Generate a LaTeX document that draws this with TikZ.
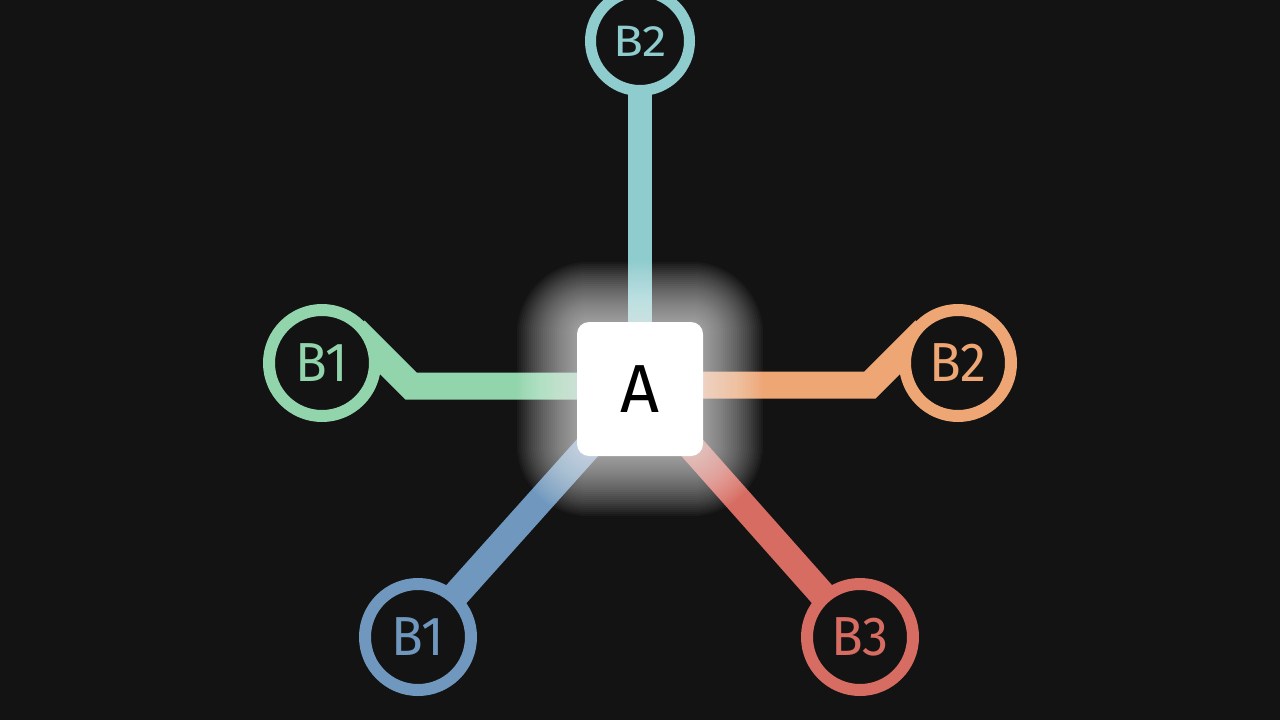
\documentclass[tikz,border=0pt]{standalone}
\usepackage{fontspec}
\setmainfont{Fira Sans}
\usepackage{graphicx}
\usetikzlibrary{calc}
\definecolor{bgc}{HTML}{131313}
\definecolor{cteal}{RGB}{142,204,206}
\definecolor{cgreen}{RGB}{146,212,172}
\definecolor{corange}{RGB}{238,166,116}
\definecolor{cblue}{RGB}{112,152,190}
\definecolor{cred}{RGB}{214,108,98}
\pgfdeclarelayer{back}
\pgfdeclarelayer{wires}
\pgfdeclarelayer{glowl}
\pgfsetlayers{back,wires,glowl,main}
\tikzset{
  ring/.style={circle, draw=#1, line width=12pt, fill=bgc, minimum size=106pt,
    inner sep=0pt, text=#1, font=\fontsize{55}{55}\selectfont},
  wire/.style={draw=#1, line width=27pt},
  hub/.style={rectangle, rounded corners=12pt, fill=white, minimum width=126pt,
    minimum height=134pt, inner sep=0pt, text=black, font=\fontsize{68}{68}\selectfont}
}
\newcommand{\nar}[1]{\scalebox{0.95}[1]{#1}}
\begin{document}
\begin{tikzpicture}[x=1pt,y=-1pt]
\useasboundingbox (0,0) rectangle (1280,720);
\begin{pgfonlayer}{back}
\fill[bgc] (0,0) rectangle (1280,720);
\end{pgfonlayer}

\node[hub] (A) at (640,389) {A};
\node[ring=cteal, minimum size=99pt, line width=11pt, font=\fontsize{44}{44}\selectfont]
  (T) at (640,41) {\scalebox{1.12}[1]{B2}};
\node[ring=cgreen] (L) at (322,363) {\nar{B1}};
\node[ring=corange] (R) at (958,363) {\nar{B2}};
\node[ring=cblue] (BL) at (418,637) {\nar{B1}};
\node[ring=cred] (BR) at (860,637) {\nar{B3}};

\coordinate (bL) at (411,386);
\coordinate (tL) at (355,330);
\coordinate (bR) at (870,385);
\coordinate (tR) at (925,330);

\begin{pgfonlayer}{wires}
\draw[wire=cteal, line width=24pt] (A.center) -- (T.center);
\draw[wire=cgreen] (A.center |- bL) -- (bL) -- (tL);
\draw[wire=corange] (A.center |- bR) -- (bR) -- (tR);
\draw[wire=cblue] (A.center) -- (BL.center);
\draw[wire=cred] (A.center) -- (BR.center);
\end{pgfonlayer}

\begin{pgfonlayer}{glowl}
\foreach \d in {2,4,...,60}
  \fill[white, fill opacity=0.03, rounded corners=12pt+\d pt]
    ($(A.south west)+(-\d,\d)$) rectangle ($(A.north east)+(\d,-\d)$);
\end{pgfonlayer}
\end{tikzpicture}
\end{document}
